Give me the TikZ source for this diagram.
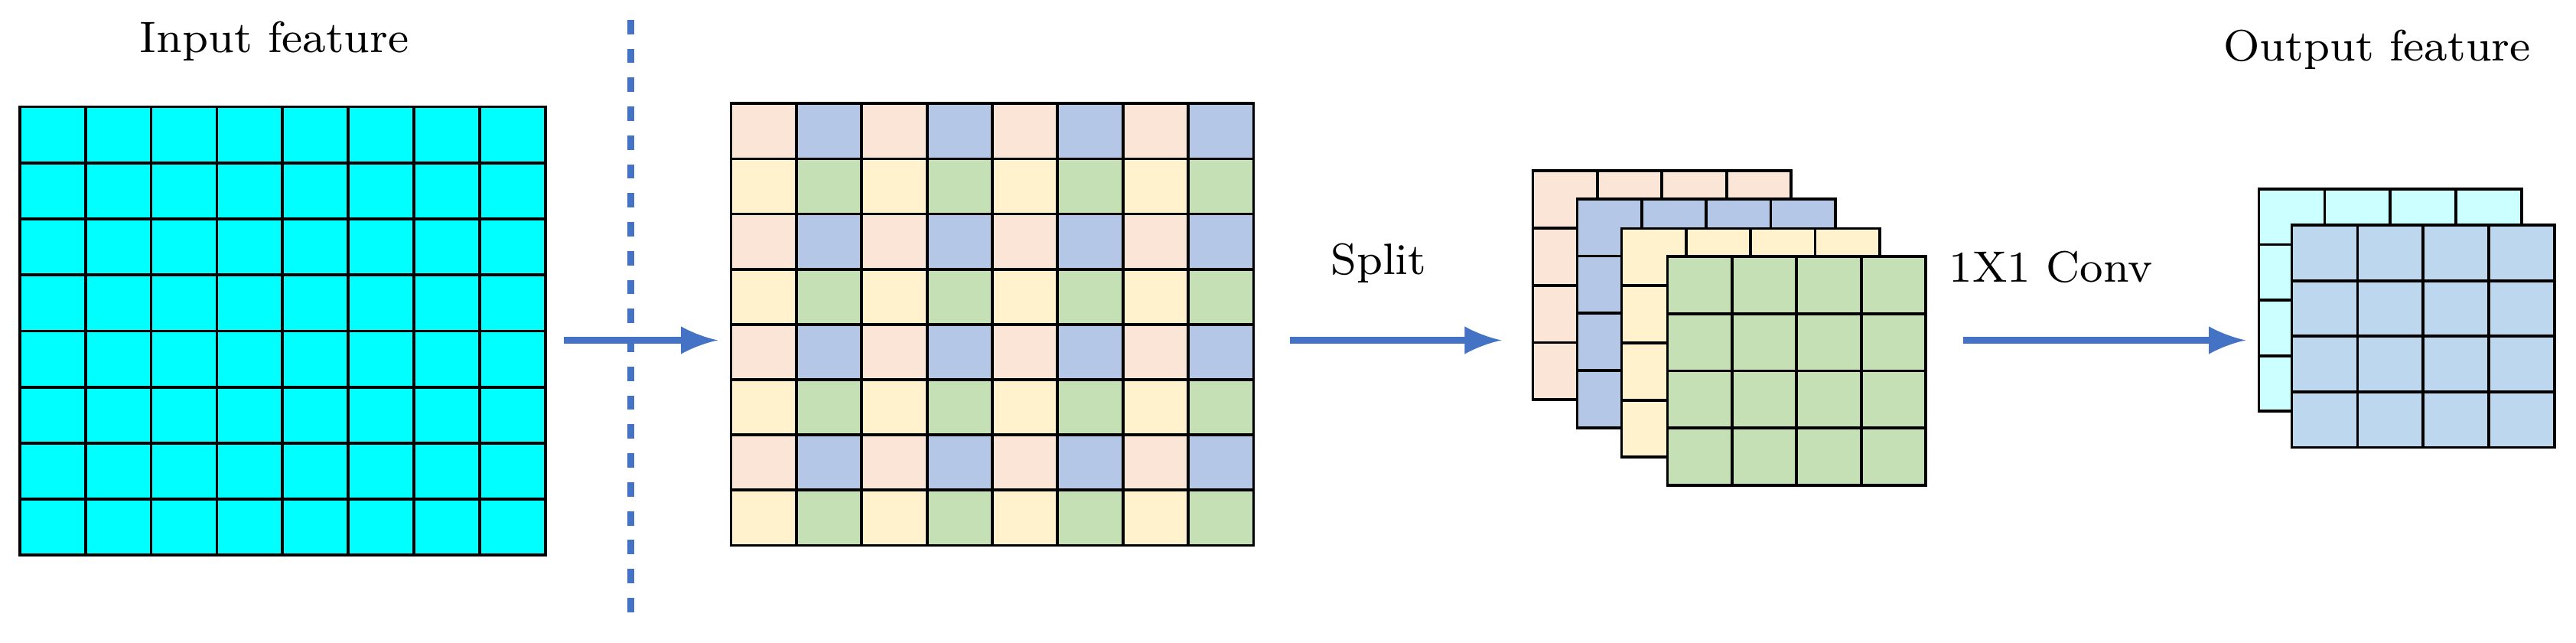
\documentclass[tikz,border=0pt]{standalone}
\usepackage{tikz}
\definecolor{cyanA}{HTML}{00FFFF}
\definecolor{peach}{HTML}{FBE5D6}
\definecolor{lblue}{HTML}{B4C7E7}
\definecolor{lyel}{HTML}{FFF2CC}
\definecolor{lgreen}{HTML}{C5E0B4}
\definecolor{lcyan}{HTML}{CCFFFF}
\definecolor{oblue}{HTML}{BDD7EE}
\definecolor{arr}{HTML}{4472C4}
\begin{document}
\begin{tikzpicture}[x=0.01cm,y=-0.01cm,
   cell/.style={draw=black,line width=0.5pt},
   to/.style={-latex,line width=1.2pt,draw=arr},
   lbl/.style={font=\fontsize{7.6}{9}\selectfont}]
\useasboundingbox (0,0) rectangle (1568,391);
% input feature
\node[lbl] (tin) at (167,25) {Input feature};
\foreach \i in {0,...,7} \foreach \j in {0,...,7}
  \draw[cell,fill=cyanA] (12+40*\i,65+34.1*\j) rectangle ++(40,34.1);
\draw[arr,line width=1.2pt,dash pattern=on 2.5pt off 2.5pt] (384,12) -- (384,380);
% rearranged
\coordinate (a1s) at (343,207); \coordinate (a1e) at (437,207);
\draw[to] (a1s) -- (a1e);
\foreach \i in {0,...,7} \foreach \j in {0,...,7} {
  \pgfmathtruncatemacro{\ci}{mod(\i,2)}
  \pgfmathtruncatemacro{\cj}{mod(\j,2)}
  \ifnum\cj=0 \ifnum\ci=0 \def\fc{peach}\else\def\fc{lblue}\fi
  \else \ifnum\ci=0 \def\fc{lyel}\else\def\fc{lgreen}\fi\fi
  \draw[cell,fill=\fc] (445+39.75*\i,63+33.6*\j) rectangle ++(39.75,33.6);
}
% split
\coordinate (a2s) at (785,207); \coordinate (a2e) at (914,207);
\draw[to] (a2s) -- node[lbl,above=6pt,pos=0.42] (tsplit) {Split} (a2e);
\foreach \c/\x/\y in {peach/933/104,lblue/960/121,lyel/987/139,lgreen/1015/156}
  \foreach \i in {0,...,3} \foreach \j in {0,...,3}
    \draw[cell,fill=\c] (\x+39.3*\i,\y+34.8*\j) rectangle ++(39.3,34.8);
% conv
\coordinate (a3s) at (1195,207); \coordinate (a3e) at (1367,207);
\draw[to] (a3s) -- node[lbl,above=6pt,pos=0.31] (tconv) {1X1 Conv} (a3e);
\foreach \c/\x/\y in {lcyan/1375/115,oblue/1395/137}
  \foreach \i in {0,...,3} \foreach \j in {0,...,3}
    \draw[cell,fill=\c] (\x+40*\i,\y+33.8*\j) rectangle ++(40,33.8);
\node[lbl] (tout) at (1447,30) {Output feature};
\end{tikzpicture}
\end{document}
